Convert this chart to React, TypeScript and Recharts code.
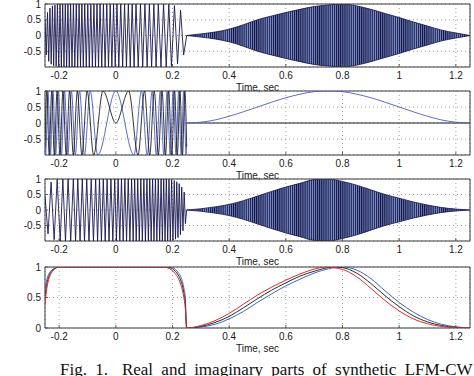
import React from 'react'
import {
  ComposedChart, Line, Area, XAxis, YAxis, CartesianGrid, ReferenceArea, Label,
} from 'recharts'

// ── Axis ticks ────────────────────────────────────────────────────────────────

const timeTicks = [-0.2, 0, 0.2, 0.4, 0.6, 0.8, 1, 1.2]
const signalTicks = [-0.5, 0, 0.5, 1]
const windowTicks = [0, 0.5, 1]

// ── Panel 1: down-chirp extremes (left) + tone envelope (right) ──────────────

const downChirpT = [
  -0.25, -0.2456, -0.2412, -0.2369, -0.2325, -0.2281, -0.2237, -0.2194, -0.215, -0.2106,
  -0.2062, -0.2016, -0.1969, -0.1923, -0.1876, -0.183, -0.1783, -0.1737, -0.169, -0.1643,
  -0.1597, -0.1547, -0.1497, -0.1447, -0.1397, -0.1347, -0.1297, -0.1247, -0.1198, -0.1148,
  -0.1098, -0.1044, -0.099, -0.0936, -0.0882, -0.0828, -0.0773, -0.0719, -0.0665, -0.0611,
  -0.0557, -0.0497, -0.0438, -0.0378, -0.0319, -0.0259, -0.0199, -0.014, -0.008, -0.0021,
  0.0039, 0.0106, 0.0173, 0.0241, 0.0308, 0.0375, 0.0442, 0.0509, 0.0577, 0.0644,
  0.0712, 0.079, 0.0869, 0.0948, 0.1027, 0.1106, 0.1184, 0.1263, 0.1342, 0.1421,
  0.15, 0.1593, 0.1685, 0.1778, 0.187, 0.1963, 0.207, 0.2178, 0.2285, 0.2393,
  0.25,
]
const downChirpV = [
  0.5, -0.62, 0.73, -0.82, 0.87, -0.91, 0.94, -0.96, 0.97, -0.98,
  0.99, -1, 1, -1, 1, -1, 1, -1, 1, -1,
  1, -1, 1, -1, 1, -1, 1, -1, 1, -1,
  1, -1, 1, -1, 1, -1, 1, -1, 1, -1,
  1, -1, 1, -1, 1, -1, 1, -1, 1, -1,
  1, -1, 1, -1, 1, -1, 1, -1, 1, -1,
  1, -1, 1, -1, 1, -1, 1, -1, 1, -1,
  1, -1, 1, -1, 0.99, -0.98, 0.95, -0.9, 0.8, -0.62,
  0,
]

const envT = [0.25, 0.3, 0.35, 0.4, 0.45, 0.5, 0.55, 0.6, 0.65, 0.7, 0.75, 0.8, 0.85, 0.9, 0.95, 1, 1.05, 1.1, 1.15, 1.2, 1.25]
const toneEnv1 = [0, 0.05, 0.11, 0.2, 0.34, 0.5, 0.62, 0.73, 0.83, 0.92, 0.97, 1, 0.94, 0.83, 0.7, 0.57, 0.43, 0.3, 0.17, 0.08, 0]

// ── Panel 2: quadratic-phase chirp, two components ───────────────────────────

const cosT = [
  -0.25, -0.2479, -0.2395, -0.2307, -0.2217, -0.2123, -0.2024, -0.192, -0.181, -0.1693, -0.1568,
  -0.1431, -0.128, -0.1109, -0.0905, -0.064, 0, 0.064, 0.0905, 0.1109, 0.128, 0.1431,
  0.1568, 0.1693, 0.181, 0.192, 0.2024, 0.2123, 0.2217, 0.2307, 0.2395, 0.2479, 0.25,
]
const cosV = [
  -0.68, -1, 1, -1, 1, -1, 1, -1, 1, -1, 1,
  -1, 1, -1, 1, -1, 1, -1, 1, -1, 1, -1,
  1, -1, 1, -1, 1, -1, 1, -1, 1, -1, -0.68,
]
const sinT = [
  -0.25, -0.2437, -0.2352, -0.2263, -0.2171, -0.2074, -0.1973, -0.1866, -0.1753, -0.1632, -0.1501,
  -0.1358, -0.1197, -0.1012, -0.0784, -0.0453, 0, 0.0453, 0.0784, 0.1012, 0.1197, 0.1358,
  0.1501, 0.1632, 0.1753, 0.1866, 0.1973, 0.2074, 0.2171, 0.2263, 0.2352, 0.2437, 0.25,
]
const sinV = [
  -0.73, 1, -1, 1, -1, 1, -1, 1, -1, 1, -1,
  1, -1, 1, -1, 1, 0, 1, -1, 1, -1, 1,
  -1, 1, -1, 1, -1, 1, -1, 1, -1, 1, -0.73,
]
const bellV = [0, 0.025, 0.095, 0.21, 0.35, 0.5, 0.65, 0.79, 0.9, 0.98, 1, 0.98, 0.9, 0.79, 0.65, 0.5, 0.35, 0.21, 0.095, 0.025, 0]
const flatT = [0.25, 1.25]
const flatV = [0, 0]

// ── Panel 3: up-chirp extremes (left) + tone envelope (right) ────────────────

const upChirpT = [
  -0.25, -0.2393, -0.2285, -0.2178, -0.207, -0.1963, -0.187, -0.1778, -0.1685, -0.1593,
  -0.15, -0.1421, -0.1342, -0.1263, -0.1184, -0.1106, -0.1027, -0.0948, -0.0869, -0.079,
  -0.0712, -0.0644, -0.0577, -0.0509, -0.0442, -0.0375, -0.0308, -0.0241, -0.0173, -0.0106,
  -0.0039, 0.0021, 0.008, 0.014, 0.0199, 0.0259, 0.0319, 0.0378, 0.0438, 0.0497,
  0.0557, 0.0611, 0.0665, 0.0719, 0.0773, 0.0828, 0.0882, 0.0936, 0.099, 0.1044,
  0.1098, 0.1148, 0.1198, 0.1247, 0.1297, 0.1347, 0.1397, 0.1447, 0.1497, 0.1547,
  0.1597, 0.1643, 0.169, 0.1737, 0.1783, 0.183, 0.1876, 0.1923, 0.1969, 0.2016,
  0.2062, 0.2106, 0.215, 0.2194, 0.2237, 0.2281, 0.2325, 0.2369, 0.2412, 0.2456,
  0.25,
]
const upChirpV = [
  0.45, -0.77, 0.9, -0.96, 0.99, -1, 1, -1, 1, -1,
  1, -1, 1, -1, 1, -1, 1, -1, 1, -1,
  1, -1, 1, -1, 1, -1, 1, -1, 1, -1,
  1, -1, 1, -1, 1, -1, 1, -1, 1, -1,
  1, -1, 1, -1, 1, -1, 1, -1, 1, -1,
  1, -1, 1, -1, 1, -1, 1, -1, 1, -1,
  1, -1, 1, -1, 1, -1, 0.99, -0.99, 0.98, -0.97,
  0.95, -0.94, 0.91, -0.89, 0.85, -0.8, 0.74, -0.67, 0.58, -0.44,
  0,
]
const toneEnv3 = [0, 0.04, 0.1, 0.18, 0.3, 0.45, 0.6, 0.74, 0.86, 0.98, 1, 0.92, 0.8, 0.65, 0.5, 0.38, 0.26, 0.16, 0.08, 0.03, 0]

// ── Panel 4: window functions ────────────────────────────────────────────────

const redT = [-0.25, -0.245, -0.24, -0.23, -0.22, -0.21, -0.2, 0.17, 0.18, 0.19, 0.2, 0.21, 0.22, 0.23, 0.24, 0.245, 0.25,
  0.3, 0.35, 0.4, 0.45, 0.5, 0.55, 0.6, 0.65, 0.7, 0.74, 0.8, 0.85, 0.9, 0.95, 1, 1.05, 1.1, 1.15, 1.2, 1.25]
const redV = [0.38, 0.6, 0.74, 0.88, 0.95, 0.985, 1, 1, 0.99, 0.97, 0.94, 0.89, 0.82, 0.7, 0.5, 0.33, 0,
  0.04, 0.12, 0.24, 0.39, 0.54, 0.67, 0.785, 0.885, 0.965, 1, 0.96, 0.84, 0.65, 0.45, 0.28, 0.15, 0.07, 0.025, 0.005, 0]
const blackT = [-0.25, -0.245, -0.24, -0.23, -0.22, -0.21, -0.2, 0.18, 0.19, 0.2, 0.21, 0.22, 0.23, 0.24, 0.245, 0.25,
  0.3, 0.35, 0.4, 0.45, 0.5, 0.55, 0.6, 0.65, 0.7, 0.77, 0.8, 0.85, 0.9, 0.95, 1, 1.05, 1.1, 1.15, 1.2, 1.25]
const blackV = [0.5, 0.68, 0.79, 0.91, 0.96, 0.99, 1, 1, 0.99, 0.97, 0.93, 0.87, 0.77, 0.58, 0.42, 0,
  0.025, 0.09, 0.19, 0.33, 0.48, 0.62, 0.74, 0.85, 0.93, 1, 0.99, 0.9, 0.73, 0.53, 0.35, 0.2, 0.1, 0.04, 0.01, 0]
const blueT = [-0.25, -0.245, -0.24, -0.23, -0.22, -0.21, -0.2, 0.19, 0.2, 0.21, 0.22, 0.23, 0.24, 0.245, 0.25,
  0.3, 0.35, 0.4, 0.45, 0.5, 0.55, 0.6, 0.65, 0.7, 0.75, 0.8, 0.85, 0.9, 0.95, 1, 1.05, 1.1, 1.15, 1.2, 1.25]
const blueV = [0.64, 0.76, 0.85, 0.93, 0.97, 0.99, 1, 1, 0.99, 0.96, 0.91, 0.83, 0.66, 0.5, 0,
  0.015, 0.06, 0.15, 0.27, 0.42, 0.56, 0.69, 0.8, 0.9, 0.97, 1, 0.95, 0.81, 0.61, 0.42, 0.26, 0.14, 0.06, 0.02, 0]

// ── Helpers ───────────────────────────────────────────────────────────────────

const pts = (ts: number[], vs: number[]) => ts.map((t, i) => ({ t, v: vs[i] }))
const band = (ts: number[], env: number[]) => ts.map((t, i) => ({ t, band: [-env[i], env[i]] }))

const FONT = '"Liberation Sans", Arial, sans-serif'
const tickStyle = { fontSize: 10, fill: '#1a1a1a', fontFamily: FONT }
const tickMark = { stroke: '#444', strokeWidth: 0.8 }
const AXIS_H = 30

interface PanelProps {
  top: number
  plotH: number
  yDomain: [number, number]
  yTicks: number[]
  data?: any[]
  children: React.ReactNode
}

function Panel({ top, plotH, yDomain, yTicks, data, children }: PanelProps) {
  return (
    <div style={{ position: 'absolute', left: 0, top }}>
      <ComposedChart width={474} height={4 + plotH + AXIS_H} data={data} margin={{ top: 4, right: 4, bottom: 0, left: 0 }}>
        <defs>
          <pattern id={`hatch${top}`} width={2.1} height={8} patternUnits="userSpaceOnUse">
            <rect width={2.1} height={8} fill="#7d93cc" />
            <rect width={1.1} height={8} fill="#10103f" />
          </pattern>
        </defs>
        <CartesianGrid stroke="#8a8a8a" strokeDasharray="1 3" strokeWidth={0.8} />
        <XAxis
          type="number"
          dataKey="t"
          domain={[-0.25, 1.25]}
          ticks={timeTicks}
          interval={0}
          allowDataOverflow
          tickLine={tickMark}
          tickSize={-3}
          axisLine={false}
          height={AXIS_H}
          tick={tickStyle}
          tickMargin={8}
        >
          <Label value="Time, sec" position="insideBottom" offset={6} style={{ fontSize: 10, fill: '#1a1a1a', fontFamily: FONT }} />
        </XAxis>
        <XAxis
          xAxisId="top"
          orientation="top"
          type="number"
          domain={[-0.25, 1.25]}
          ticks={timeTicks}
          interval={0}
          allowDataOverflow
          tickLine={tickMark}
          tickSize={-3}
          axisLine={false}
          height={0}
          tick={false}
        />
        <YAxis
          type="number"
          domain={yDomain}
          ticks={yTicks}
          interval={0}
          allowDataOverflow
          width={45}
          tickLine={tickMark}
          tickSize={-3}
          axisLine={false}
          tick={tickStyle}
          tickMargin={7}
        />
        <YAxis
          yAxisId="right"
          orientation="right"
          type="number"
          domain={yDomain}
          ticks={yTicks}
          interval={0}
          allowDataOverflow
          width={0}
          tickLine={tickMark}
          tickSize={-3}
          axisLine={false}
          tick={false}
        />
        {children}
        <ReferenceArea x1={-0.25} x2={1.25} y1={yDomain[0]} y2={yDomain[1]} fill="none" stroke="#3a3a3a" strokeWidth={1} />
      </ComposedChart>
    </div>
  )
}

export default function App() {
  return (
    <div style={{ position: 'absolute', left: 0, top: 0, width: 474, height: 376, background: '#fff', overflow: 'hidden' }}>
      {/* Panel 1 */}
      <Panel top={0} plotH={63} yDomain={[-1, 1]} yTicks={signalTicks} data={band(envT, toneEnv1)}>
        <Area type="monotone" dataKey="band" stroke="#121248" strokeWidth={0.8} fill="url(#hatch0)" fillOpacity={1} isAnimationActive={false} />
        <Line type="linear" data={pts(downChirpT, downChirpV)} dataKey="v" stroke="#171750" strokeWidth={0.9} dot={false} isAnimationActive={false} />
      </Panel>

      {/* Panel 2 */}
      <Panel top={87} plotH={64} yDomain={[-1, 1]} yTicks={signalTicks}>
        <Line type="monotone" data={pts(cosT, cosV)} dataKey="v" stroke="#4a5bc8" strokeWidth={0.9} dot={false} isAnimationActive={false} />
        <Line type="monotone" data={pts(sinT, sinV)} dataKey="v" stroke="#1e1e1e" strokeWidth={0.9} dot={false} isAnimationActive={false} />
        <Line type="linear" data={pts(flatT, flatV)} dataKey="v" stroke="#1e1e1e" strokeWidth={1} dot={false} isAnimationActive={false} />
        <Line type="monotone" data={pts(envT, bellV)} dataKey="v" stroke="#4a5bc8" strokeWidth={0.9} dot={false} isAnimationActive={false} />
      </Panel>

      {/* Panel 3 */}
      <Panel top={175} plotH={62} yDomain={[-1, 1]} yTicks={signalTicks} data={band(envT, toneEnv3)}>
        <Area type="monotone" dataKey="band" stroke="#121248" strokeWidth={0.8} fill="url(#hatch175)" fillOpacity={1} isAnimationActive={false} />
        <Line type="linear" data={pts(upChirpT, upChirpV)} dataKey="v" stroke="#171750" strokeWidth={0.9} dot={false} isAnimationActive={false} />
      </Panel>

      {/* Panel 4 */}
      <Panel top={263} plotH={61} yDomain={[0, 1]} yTicks={windowTicks}>
        <Line type="monotone" data={pts(blueT, blueV)} dataKey="v" stroke="#4262d0" strokeWidth={1} dot={false} isAnimationActive={false} />
        <Line type="monotone" data={pts(blackT, blackV)} dataKey="v" stroke="#22352a" strokeWidth={1} dot={false} isAnimationActive={false} />
        <Line type="monotone" data={pts(redT, redV)} dataKey="v" stroke="#e5262a" strokeWidth={1} dot={false} isAnimationActive={false} />
      </Panel>

      <div
        style={{
          position: 'absolute', left: 60, top: 361, whiteSpace: 'pre', lineHeight: '17px',
          fontFamily: '"Liberation Serif", "Times New Roman", serif', fontSize: 17, color: '#111', wordSpacing: 4,
        }}
      >
        <span>Fig. 1.</span>
        <span style={{ marginLeft: 14 }}>Real and imaginary parts of synthetic LFM-CW</span>
      </div>
    </div>
  )
}
